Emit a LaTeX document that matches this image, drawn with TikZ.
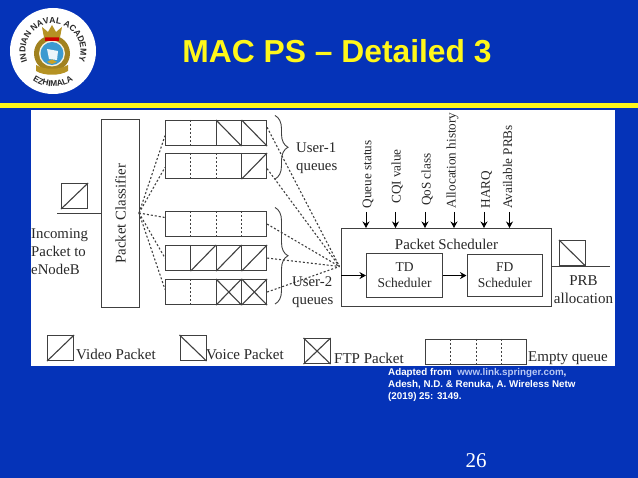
\documentclass[tikz,border=0pt]{standalone}
\usepackage{fontspec}
\setmainfont{Liberation Serif}
\newfontfamily\slidesans{Liberation Sans}
\usetikzlibrary{arrows.meta,calc,decorations.text,decorations.pathreplacing}
\definecolor{slideblue}{HTML}{0533B8}
\definecolor{slideyellow}{HTML}{FFF71A}
\definecolor{boxgray}{HTML}{404040}
\definecolor{inkgray}{HTML}{282828}
\definecolor{crestblue}{HTML}{3C9AD0}
\definecolor{crestgold}{HTML}{C9A227}
\definecolor{linkblue}{HTML}{B8C8F4}
\tikzset{
  boxline/.style={draw=boxgray,line width=1.1pt},
  queuebox/.style={boxline,anchor=north west,inner sep=0,minimum width=101,minimum height=25},
  pktbox/.style={boxline,anchor=north west,inner sep=0,minimum width=26,minimum height=25},
  blockbox/.style={boxline,inner sep=0,anchor=north west,align=center,text=inkgray,font=\fontsize{13.5}{16}\selectfont},
  lbl/.style={text=inkgray,inner sep=0,font=\fontsize{14.8}{18}\selectfont},
  inputlbl/.style={lbl,rotate=90,anchor=west,font=\fontsize{13.2}{15}\selectfont},
  leglbl/.style={lbl,anchor=west,font=\fontsize{15}{16}\selectfont},
  cellsep/.style={draw=boxgray,line width=1.1pt},
  celldash/.style={draw=boxgray,line width=1.1pt,dash pattern=on 2pt off 2pt},
  feedline/.style={draw=boxgray,line width=1.1pt,dash pattern=on 2pt off 2pt},
  feedarrow/.style={draw=black,line width=1pt,-{Stealth[length=6.5pt,width=7pt]}},
  bracket/.style={draw=boxgray,line width=.9pt,decorate,decoration={brace,amplitude=13pt}},
}
\begin{document}
\begin{tikzpicture}[x=1pt,y=-1pt]
\useasboundingbox (0,0) rectangle (638,478);
\fill[slideblue] (0,0) rectangle (638,478);
\fill[slideyellow] (0,103.5) rectangle (638,108);
\fill[white] (31,110) rectangle (614.5,366);

% logo
\begin{scope}[shift={(53,51)},y=1pt]
\fill[white] (0,0) circle (43);
\path[decorate,decoration={text along path,text align=center,
  text={|\slidesans\fontsize{8.6}{10}\bfseries\color{inkgray}|INDIAN NAVAL ACADEMY}}]
  (212:27.5) arc (212:-32:27.5);
\path[decorate,decoration={text along path,text align=center,
  text={|\slidesans\fontsize{8.4}{10}\bfseries\color{inkgray}|EZHIMALA}}]
  (225:35.5) arc (225:315:35.5);
\fill[crestgold!80!black] (-1,-2.5) circle (18);
\fill[white!85!crestgold] (-1,-2.5) circle (13);
\fill[crestblue] (-1,-2.5) circle (11.5);
\fill[white!90!crestblue] (-6,2) -- (-4,-8) -- (4,-9) -- (5,0) -- cycle;
\fill[crestgold] (-6,-11) -- (-1,-8.5) -- (4,-11) -- (-1,-13) -- cycle;
\fill[red!80!black] (-8,10) rectangle (6,13.5);
\fill[crestgold!90!black] (-9,13.5) -- (-11,24) -- (-5,19) -- (-1,26) -- (3,19) -- (9,24) -- (7,13.5) -- cycle;
\fill[crestgold!90!black] (-17,-14) .. controls (-9,-19) and (7,-19) .. (15,-14) -- (15,-20) .. controls (7,-25) and (-9,-25) .. (-17,-20) -- cycle;
\end{scope}

\node[text=slideyellow,inner sep=0,font=\slidesans\fontsize{31.8}{34}\bfseries\selectfont] (title) at (337,51) {MAC PS – Detailed 3};

% classifier and input
\node[blockbox,minimum width=38,minimum height=188] (classifier) at (101,119) {\rotatebox{90}{\fontsize{14.8}{16}\selectfont Packet Classifier}};
\node[pktbox] (inpkt) at (61,183) {};
\draw[cellsep] (inpkt.south west)--(inpkt.north east);
\coordinate (instart) at (57,213.5);
\draw[cellsep] (instart)--(instart-|classifier.west);
\node[lbl,anchor=north west,align=left] (inlabel) at (31,229) {Incoming\\Packet to\\eNodeB};

% queues
\node[queuebox] (q1) at (165,120) {};
\node[queuebox] (q2) at (165,153) {};
\node[queuebox] (q3) at (165,211) {};
\node[queuebox] (q4) at (165,245) {};
\node[queuebox] (q5) at (165,279) {};
\node[queuebox] (qempty) at (425,339) {};

\foreach \q/\a/\b/\c in {q1/d/s/s,q2/d/d/s,q3/d/d/d,q4/s/s/s,q5/d/s/s,qempty/d/d/d}{
  \foreach \f/\s in {.25/\a,.5/\b,.75/\c}{
    \if d\s
      \draw[celldash] ($(\q.north west)!\f!(\q.north east)$)--($(\q.south west)!\f!(\q.south east)$);
    \else
      \draw[cellsep] ($(\q.north west)!\f!(\q.north east)$)--($(\q.south west)!\f!(\q.south east)$);
    \fi
  }
}
% voice cells
\foreach \q/\f in {q1/.5,q1/.75,q5/.5,q5/.75}{
  \draw[cellsep] ($(\q.north west)!\f!(\q.north east)$)--($(\q.south west)!\f+.25!(\q.south east)$);
}
% video cells
\foreach \q/\f in {q2/.75,q4/.25,q4/.5,q4/.75,q5/.5,q5/.75}{
  \draw[cellsep] ($(\q.south west)!\f!(\q.south east)$)--($(\q.north west)!\f+.25!(\q.north east)$);
}

\coordinate (hub) at (339.5,266.5);
\coordinate (fan) at (139,213);
\foreach \q/\f in {q1/.6,q2/.55,q3/.25,q4/.5,q5/.4}{
  \draw[feedline] (fan)--($(\q.north west)!\f!(\q.south west)$);
}
\foreach \q/\f in {q1/.28,q2/.6,q3/.5,q4/.5,q5/.5}{
  \draw[feedline] ($(\q.north east)!\f!(\q.south east)$)--(hub);
}

% braces
\coordinate (u1top) at (275,115.5);
\coordinate (u1bot) at (275,179);
\coordinate (u2top) at (275,207.5);
\coordinate (u2bot) at (275,304);
\draw[bracket] (u1top)--(u1bot);
\draw[bracket] (u2top)--(u2bot);
\node[lbl,anchor=north west,align=left] (u1label) at (296,142.5) {User-1\\queues};
\node[lbl,anchor=north west,align=left] (u2label) at (292,277) {User-2\\queues};

% scheduler
\node[boxline,anchor=north west,minimum width=209.5,minimum height=78,inner sep=0] (sched) at (341,228) {};
\node[lbl,font=\fontsize{14.9}{16}\selectfont] (schedlabel) at (446.5,244) {Packet Scheduler};
\node[blockbox,minimum width=76,minimum height=44] (td) at (366,253) {TD\\Scheduler};
\node[blockbox,minimum width=75.5,minimum height=42] (fd) at (466.5,254) {FD\\Scheduler};
\draw[feedarrow] (sched.west|-td.west)--(td.west);
\draw[feedarrow] (td.east)--(td.east-|fd.west);

\foreach \x/\lx/\ly/\t/\n in {366/368/208.5/Queue status/qstatus,395.5/397/204/CQI value/cqi,425/427/206/QoS class/qos,454/452.5/208.5/Allocation history/hist,484/486.5/208.5/HARQ/harq,509.5/507.5/209/Available PRBs/prbs}{
  \node[inputlbl] (\n) at (\lx,\ly) {\t};
  \coordinate (\n top) at (\x,212);
  \draw[feedarrow] (\n top)--(\n top|-sched.north);
}

% output
\node[pktbox,minimum width=25.5] (outpkt) at (559,240) {};
\draw[cellsep] (outpkt.north west)--(outpkt.south east);
\coordinate (outend) at (609.5,266.5);
\draw[cellsep] (sched.east|-outend)--(outend);
\node[lbl,align=center,font=\fontsize{15}{18}\selectfont] (outlabel) at (583.5,290) {PRB\\allocation};

% legend
\node[pktbox] (legvideo) at (47,335) {};
\draw[cellsep] (legvideo.south west)--(legvideo.north east);
\node[leglbl] (videolabel) at (76,354) {Video Packet};
\node[pktbox] (legvoice) at (179.5,335) {};
\draw[cellsep] (legvoice.north west)--(legvoice.south east);
\node[leglbl] (voicelabel) at (206,354) {Voice Packet};
\node[pktbox] (legftp) at (303.5,338) {};
\draw[cellsep] (legftp.north west)--(legftp.south east);
\draw[cellsep] (legftp.south west)--(legftp.north east);
\node[leglbl] (ftplabel) at (334,358) {FTP Packet};
\node[leglbl] (emptylabel) at (528,358) {Empty queue};

\node[anchor=north west,inner sep=0,align=left,text=white,font=\slidesans\fontsize{9.8}{12}\bfseries\selectfont] (source) at (388,368.5) {Adapted from \ {\color{linkblue}www.link.springer.com},\\Adesh, N.D. \& Renuka, A. Wireless Netw\\(2019) 25: 3149.};
\node[text=white,inner sep=0,font=\fontsize{21}{24}\selectfont] (pageno) at (476,461) {26};
\end{tikzpicture}
\end{document}
